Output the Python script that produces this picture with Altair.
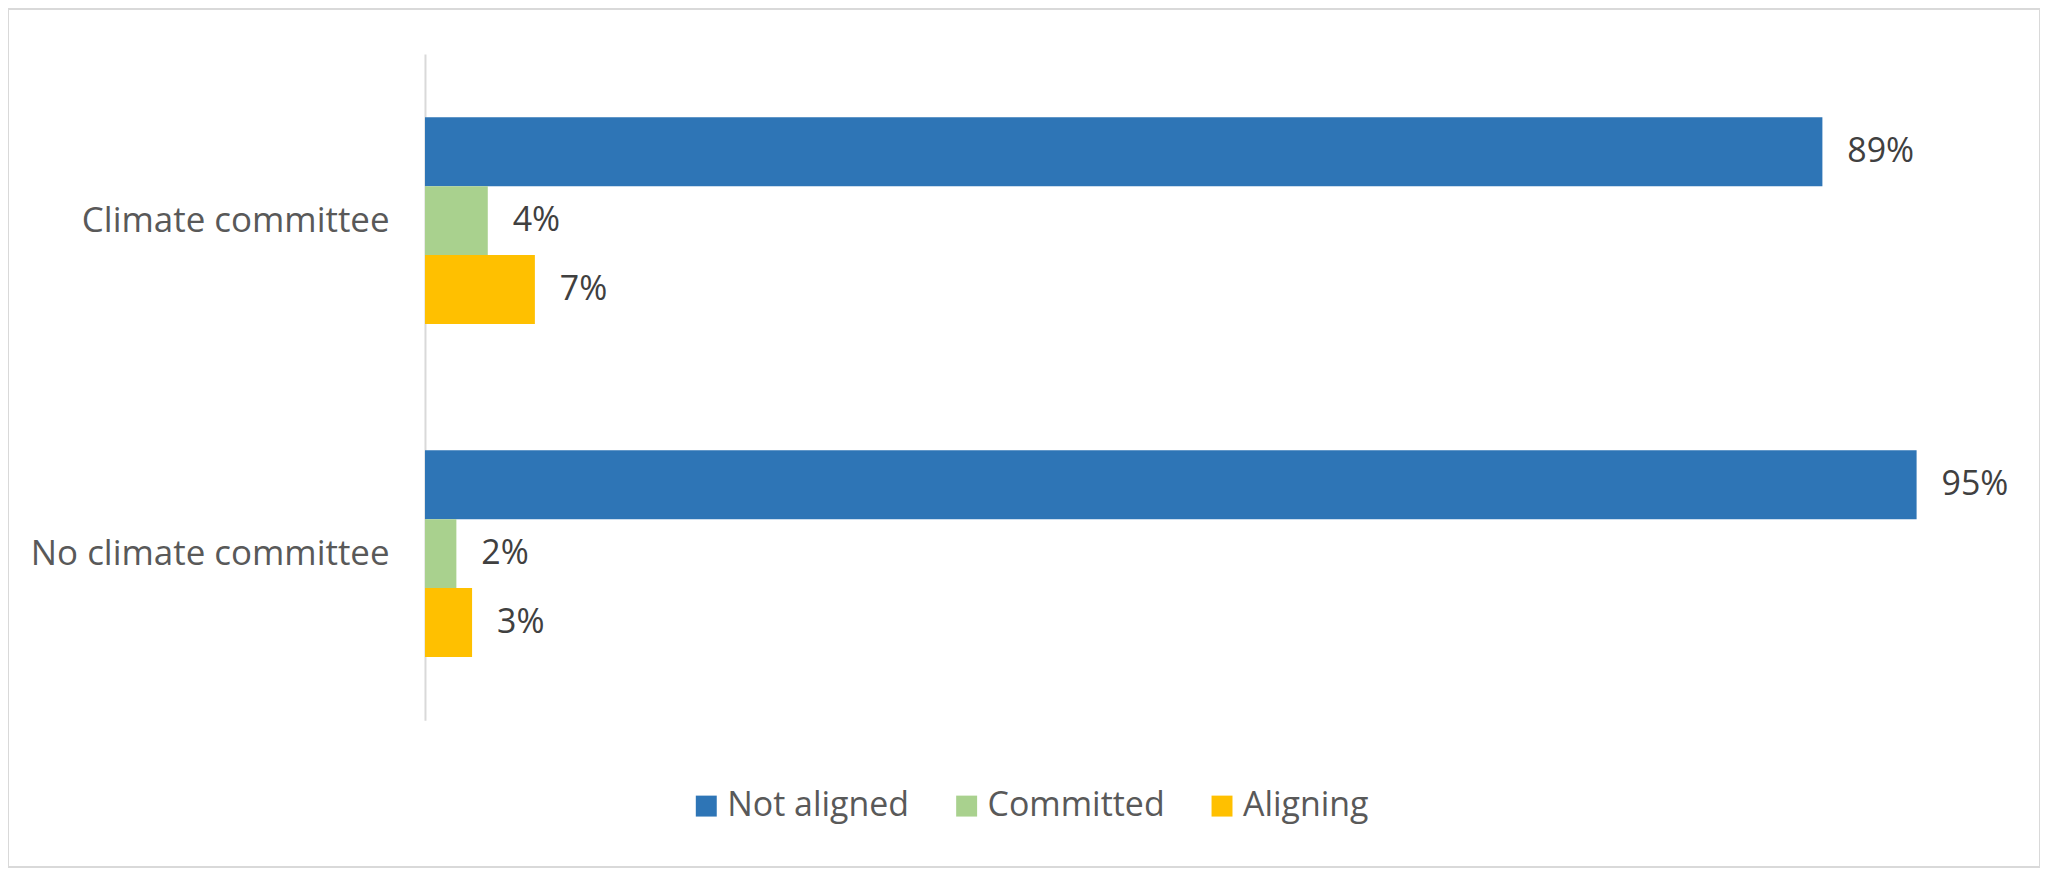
import altair as alt
import pandas as pd

categories = ["Climate committee", "No climate committee"]
series = ["Not aligned", "Committed", "Aligning"]
not_aligned = [0.89, 0.95]
committed = [0.04, 0.02]
aligning = [0.07, 0.03]
colors = ["#2E75B6", "#A9D18E", "#FFC000"]

rows = []
for i, c in enumerate(categories):
    for s, vals in zip(series, [not_aligned, committed, aligning]):
        rows.append({"category": c, "series": s, "value": vals[i]})
df = pd.DataFrame(rows)

FONT = "Open Sans"

y_enc = alt.Y(
    "category:N",
    sort=categories,
    scale=alt.Scale(range=[45, 713], paddingInner=0.379, paddingOuter=0.19),
    axis=alt.Axis(
        title=None, ticks=False, grid=False, offset=-418,
        labelPadding=36, labelFontSize=35, labelColor="#595959", labelFont=FONT,
        domainColor="#d9d9d9", domainWidth=2, labelLimit=600,
    ),
)
x_enc = alt.X("value:Q", scale=alt.Scale(domain=[0, 1], range=[418, 1992]), axis=None)
yoff = alt.YOffset("series:N", sort=series, scale=alt.Scale(paddingInner=0, paddingOuter=0))

bars = alt.Chart(df).mark_bar().encode(
    y=y_enc,
    x=x_enc,
    yOffset=yoff,
    color=alt.Color(
        "series:N", sort=series,
        scale=alt.Scale(domain=series, range=colors),
        legend=alt.Legend(
            title=None, orient="none", direction="horizontal",
            legendX=683, legendY=782,
            symbolType="square", symbolSize=441, symbolStrokeWidth=0,
            labelFontSize=34, labelColor="#595959", labelFont=FONT,
            labelOffset=4, columnPadding=40, labelLimit=500,
        ),
    ),
)

labels = alt.Chart(df).mark_text(
    align="left", baseline="middle", dx=25, fontSize=34, font=FONT, color="#404040"
).encode(
    y=alt.Y("category:N", sort=categories),
    x=alt.X("value:Q"),
    yOffset=yoff,
    text=alt.Text("value:Q", format=".0%"),
)

chart = (
    alt.layer(bars, labels)
    .properties(width=2037, height=860, padding=0, background="white")
    .configure_view(stroke="#d9d9d9", strokeWidth=2)
)

chart.save("out.html", embed_options={"renderer": "svg", "actions": False})
